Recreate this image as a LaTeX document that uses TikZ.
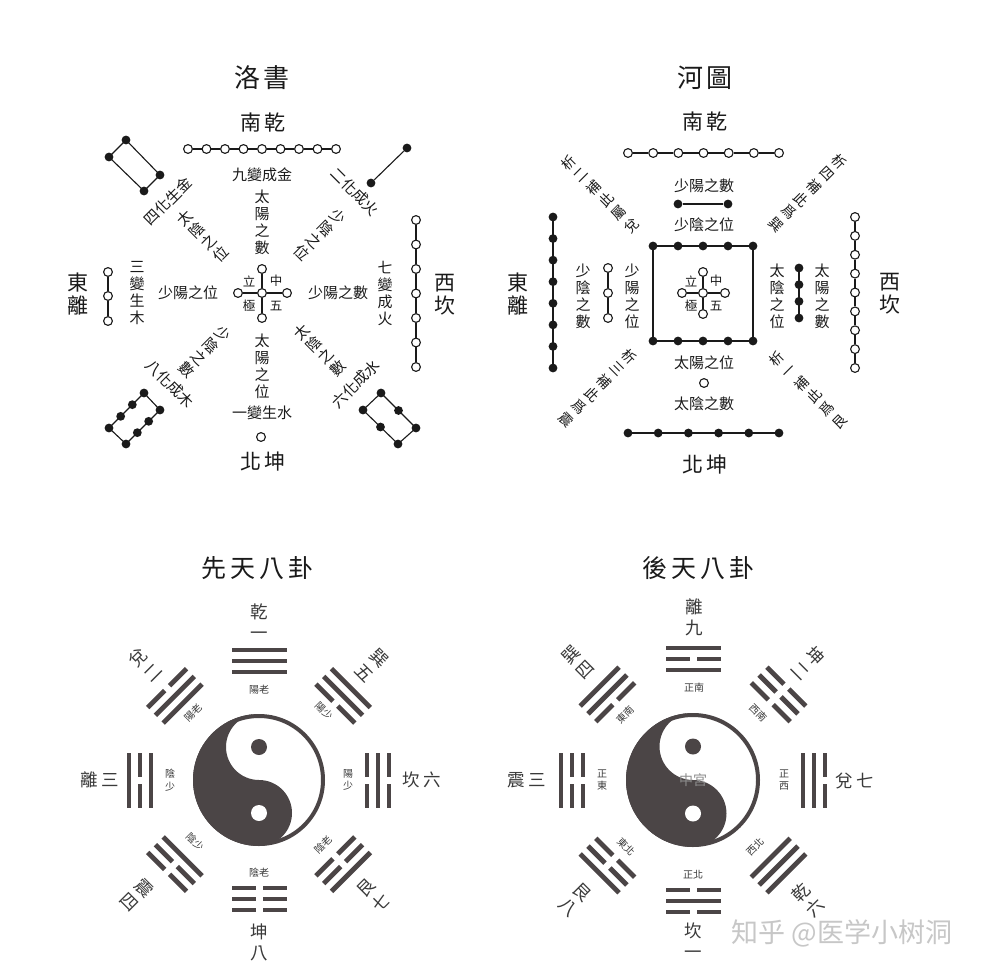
\documentclass[tikz,border=0pt]{standalone}
\usepackage{fontspec}
\setmainfont{Liberation Serif}
\newfontfamily\tc{Noto Sans CJK TC}
\newfontfamily\scf{Noto Sans CJK SC}
\definecolor{ink}{HTML}{1A1A1A}
\definecolor{tri}{HTML}{4B4546}
\definecolor{lbl}{HTML}{3A3A3A}
\newcommand\fs[2]{\fontsize{#1}{#2}\selectfont}
\newcommand\tribar[2]{%
  \ifnum#2=1
    \fill[tri] (-27.5,#1-2.4) rectangle (27.5,#1+2.4);
  \else
    \fill[tri] (-27.5,#1-2.4) rectangle (-3.5,#1+2.4);
    \fill[tri] (3.5,#1-2.4) rectangle (27.5,#1+2.4);
  \fi}
\newcommand\trigram[7]{%
  \begin{scope}[shift={(#1,#2)},rotate=#3]
    \tribar{-#4-11}{#5}\tribar{-#4}{#6}\tribar{-#4+11}{#7}
  \end{scope}}
\newcommand\yinyang[3]{%
  \begin{scope}[shift={(#1,#2)},x=1pt,y=1pt]
    \fill[tri] (0,#3) arc[start angle=90,end angle=270,radius=#3]
      arc[start angle=-90,end angle=90,radius=#3/2]
      arc[start angle=-90,end angle=-270,radius=#3/2] -- cycle;
    \draw[tri,line width=4pt] (0,0) circle[radius=#3-2];
    \fill[tri] (0,#3/2) circle[radius=8];
    \fill[white] (0,-#3/2) circle[radius=8];
  \end{scope}}
\begin{document}
\begin{tikzpicture}[x=1pt,y=-1pt,
  ln/.style={line width=1.1pt,draw=ink},
  odot/.style={circle,draw=ink,fill=white,line width=1.1pt,inner sep=0pt,minimum size=8.8pt},
  fdot/.style={circle,fill=ink,inner sep=0pt,minimum size=8.8pt},
  every node/.style={inner sep=0pt,text=ink},
  big/.style={font=\tc\fs{26}{26}},
  gbig/.style={font=\tc\fs{25}{25}},
  dir/.style={font=\tc\fs{21}{23},align=center},
  lab/.style={font=\tc\fs{15}{17},align=center},
  tiny/.style={font=\tc\fs{12.5}{12.5}},
  diag/.style={font=\tc\fs{14}{17.8},align=center},
  sm/.style={font=\tc\fs{10}{12.5},align=center,text=lbl},
  glab/.style={font=\tc\fs{17.5}{21},align=center,text=lbl},
  wm/.style={font=\scf\fs{27}{27},text=black!22}]
\useasboundingbox[fill=white] (0,0) rectangle (988,971);

% ================= LUOSHU =================
\node[big] (lsTitle) at (262,78) {洛\hspace{3pt}書};
\node[dir] (lsS) at (263,123) {南\hspace{4pt}乾};
\foreach \i in {0,...,8} \node[odot] (lsT\i) at ({188+18.5*\i},149) {};
\foreach \i [count=\j] in {0,...,7} \draw[ln] (lsT\i) -- (lsT\j);
% top-left 4
\node[fdot] (lsA1) at (126,140) {};
\node[fdot] (lsA2) at (109,157) {};
\node[fdot] (lsA3) at (144,191) {};
\node[fdot] (lsA4) at (160,175) {};
\draw[ln] (lsA1.center) -- (lsA2.center) -- (lsA3.center) -- (lsA4.center) -- cycle;
% top-right 2
\node[fdot] (lsB1) at (407,148) {};
\node[fdot] (lsB2) at (371,183) {};
\draw[ln] (lsB1) -- (lsB2);
\node[lab] at (262,175) {九變成金};
\node[lab] at (262,222) {太\\陽\\之\\數};
\node[lab,rotate=45] at (168,201) {四化生金};
\node[lab,rotate=45] at (203,236) {太\\陰\\之\\位};
\node[lab,rotate=-45] at (355,192) {二化成火};
\node[lab,rotate=-45] at (320,235) {少\\陰\\之\\位};
% east
\node[dir] (lsE) at (78,294) {東\\離};
\node[odot] (lsE1) at (108,272) {};
\node[odot] (lsE2) at (108,296) {};
\node[odot] (lsE3) at (108,321) {};
\draw[ln] (lsE1) -- (lsE2); \draw[ln] (lsE2) -- (lsE3);
\node[lab] at (137,293) {三\\變\\生\\木};
\node[lab] at (188,293) {少陽之位};
% centre
\node[odot] (lsC) at (262,293) {};
\node[odot] (lsCn) at (262,269) {};
\node[odot] (lsCs) at (262,318) {};
\node[odot] (lsCw) at (238,293) {};
\node[odot] (lsCe) at (287,293) {};
\foreach \k in {n,s,w,e} \draw[ln] (lsC) -- (lsC\k);
\node[tiny] at (249,281) {立};
\node[tiny] at (276,281) {中};
\node[tiny] at (249,306) {極};
\node[tiny] at (276,306) {五};
\node[lab] at (338,293) {少陽之數};
\node[lab] at (385,293) {七\\變\\成\\火};
% west
\foreach \i in {0,...,6} \node[odot] (lsW\i) at (416,{220+24.5*\i}) {};
\foreach \i [count=\j] in {0,...,5} \draw[ln] (lsW\i) -- (lsW\j);
\node[dir] at (445,295) {西\\坎};
% south
\node[lab] at (262,366) {太\\陽\\之\\位};
\node[lab] at (262,413) {一變生水};
\node[odot] (lsN) at (261,437) {};
\node[dir] at (263,462) {北\hspace{4pt}坤};
\node[lab,rotate=-45] at (205,352) {少\\陰\\之\\數};
\node[lab,rotate=-45] at (170,384) {八化成木};
\node[lab,rotate=45] at (320,350) {太\\陰\\之\\數};
\node[lab,rotate=45] at (356,384) {六化成水};
% bottom-left 8
\foreach \i in {0,...,3} {
  \node[fdot] (lsL\i) at ({144-11.67*\i},{393+11.67*\i}) {};
  \node[fdot] (lsM\i) at ({160-11.33*\i},{410+11.33*\i}) {};}
\draw[ln] (lsL0.center) -- (lsL3.center) -- (lsM3.center) -- (lsM0.center) -- cycle;
% bottom-right 6
\foreach \i in {0,...,2} {
  \node[fdot] (lsR\i) at ({381+17.5*\i},{393+17.5*\i}) {};
  \node[fdot] (lsQ\i) at ({363+17.5*\i},{410+17*\i}) {};}
\draw[ln] (lsR0.center) -- (lsR2.center) -- (lsQ2.center) -- (lsQ0.center) -- cycle;

% ================= HETU =================
\node[big] (htTitle) at (705,78) {河\hspace{3pt}圖};
\node[dir] at (705,122) {南\hspace{4pt}乾};
\foreach \i in {0,...,6} \node[odot] (htT\i) at ({628+25.17*\i},153) {};
\foreach \i [count=\j] in {0,...,5} \draw[ln] (htT\i) -- (htT\j);
\node[lab] at (704,186) {少陽之數};
\node[fdot] (htP1) at (678,204) {};
\node[fdot] (htP2) at (728,204) {};
\draw[ln] (htP1) -- (htP2);
\node[lab] at (704,225) {少陰之位};
% square
\foreach \i in {0,...,4} {
  \node[fdot] (htU\i) at ({653+25*\i},246) {};
  \node[fdot] (htD\i) at ({653+25*\i},341) {};}
\draw[ln] (htU0.center) -- (htU4.center) -- (htD4.center) -- (htD0.center) -- cycle;
% centre cross
\node[odot] (htC) at (703,293) {};
\node[odot] (htCn) at (703,272) {};
\node[odot] (htCs) at (703,314) {};
\node[odot] (htCw) at (682,293) {};
\node[odot] (htCe) at (725,293) {};
\foreach \k in {n,s,w,e} \draw[ln] (htC) -- (htC\k);
\node[tiny] at (691,281) {立};
\node[tiny] at (716,281) {中};
\node[tiny] at (691,306) {極};
\node[tiny] at (716,306) {五};
% inner left / right
\node[lab] at (583,296) {少\\陰\\之\\數};
\foreach \i in {0,...,2} \node[odot] (htL\i) at (608,{268+25*\i}) {};
\draw[ln] (htL0) -- (htL1); \draw[ln] (htL1) -- (htL2);
\node[lab] at (632,296) {少\\陽\\之\\位};
\node[lab] at (777,296) {太\\陰\\之\\位};
\foreach \i in {0,...,3} \node[fdot] (htR\i) at (799,{268+16.67*\i}) {};
\draw[ln] (htR0.center) -- (htR3.center);
\node[lab] at (822,296) {太\\陽\\之\\數};
% east / west
\foreach \i in {0,...,7} \node[fdot] (htE\i) at (553,{217+21.57*\i}) {};
\draw[ln] (htE0.center) -- (htE7.center);
\node[dir] at (518,294) {東\\離};
\foreach \i in {0,...,8} \node[odot] (htW\i) at (855,{217+18.875*\i}) {};
\foreach \i [count=\j] in {0,...,7} \draw[ln] (htW\i) -- (htW\j);
\node[dir] at (890,294) {西\\坎};
% south
\node[lab] at (704,363) {太陽之位};
\node[odot] (htN) at (704,383) {};
\node[lab] at (704,404) {太陰之數};
\foreach \i in {0,...,5} \node[fdot] (htB\i) at ({628+30.2*\i},433) {};
\draw[ln] (htB0.center) -- (htB5.center);
\node[dir] at (705,465) {北\hspace{4pt}坤};
% diagonals
\node[diag,rotate=45] at (600,194) {析\\二\\補\\此\\屬\\兌};
\node[diag,rotate=-45] at (808,193) {析\\四\\補\\此\\爲\\巽};
\node[diag,rotate=-45] at (598,388) {析\\三\\補\\此\\爲\\震};
\node[diag,rotate=45] at (808,390) {析\\一\\補\\此\\爲\\艮};

% ================= XIANTIAN =================
\node[gbig] at (257,568) {先\hspace{4pt}天\hspace{4pt}八\hspace{4pt}卦};
\yinyang{259}{780}{66}
\trigram{259}{780}{0}{119}{1}{1}{1}
\trigram{259}{780}{45}{119}{0}{1}{1}
\trigram{259}{780}{90}{119}{1}{0}{1}
\trigram{259}{780}{135}{119}{0}{0}{1}
\trigram{259}{780}{180}{119}{0}{0}{0}
\trigram{259}{780}{225}{119}{1}{0}{0}
\trigram{259}{780}{270}{119}{0}{1}{0}
\trigram{259}{780}{315}{119}{1}{1}{0}
\node[glab] at (259,622) {乾\\一};
\node[glab,rotate=45] at (145,665) {兌\\二};
\node[glab,rotate=-45] at (372,665) {巽\\五};
\node[glab] at (100,780) {離\hspace{4pt}三};
\node[glab] at (422,780) {坎\hspace{4pt}六};
\node[glab,rotate=-45] at (137,895) {震\\四};
\node[glab,rotate=45] at (373,895) {艮\\七};
\node[glab] at (259,942) {坤\\八};
\node[sm] at (259,690) {陽老};
\node[sm,rotate=45] at (193,713) {陽老};
\node[sm,rotate=-45] at (324,711) {陽少};
\node[sm] at (170,780) {陰\\少};
\node[sm] at (348,780) {陽\\少};
\node[sm,rotate=-45] at (195,842) {陰少};
\node[sm,rotate=45] at (323,845) {陰老};
\node[sm] at (259,873) {陰老};

% ================= HOUTIAN =================
\node[gbig] at (698,568) {後\hspace{4pt}天\hspace{4pt}八\hspace{4pt}卦};
\yinyang{693}{780}{67}
\trigram{693}{780}{0}{121}{1}{0}{1}
\trigram{693}{780}{45}{121}{1}{1}{0}
\trigram{693}{780}{90}{121}{1}{0}{0}
\trigram{693}{780}{135}{121}{1}{0}{0}
\trigram{693}{780}{180}{121}{0}{1}{0}
\trigram{693}{780}{225}{121}{1}{1}{1}
\trigram{693}{780}{270}{121}{0}{1}{1}
\trigram{693}{780}{315}{121}{0}{0}{0}
\node[font=\tc\fs{14}{14},text=black!45] at (693,780) {中宮};
\node[glab] at (694,617) {離\\九};
\node[glab,rotate=45] at (578,662) {巽\\四};
\node[glab,rotate=-45] at (808,663) {坤\\二};
\node[glab] at (527,780) {震\hspace{4pt}三};
\node[glab] at (855,781) {兌\hspace{4pt}七};
\node[glab,rotate=-45] at (575,900) {艮\\八};
\node[glab,rotate=45] at (808,900) {乾\\六};
\node[glab] at (693,941) {坎\\一};
\node[sm] at (694,688) {正南};
\node[sm,rotate=45] at (625,715) {東南};
\node[sm,rotate=-45] at (758,713) {西南};
\node[sm] at (602,780) {正\\東};
\node[sm] at (784,780) {正\\西};
\node[sm,rotate=-45] at (626,847) {東北};
\node[sm,rotate=45] at (755,847) {西北};
\node[sm] at (693,875) {正北};
\node[wm] at (842,933) {知乎 @医学小树洞};
\end{tikzpicture}
\end{document}
